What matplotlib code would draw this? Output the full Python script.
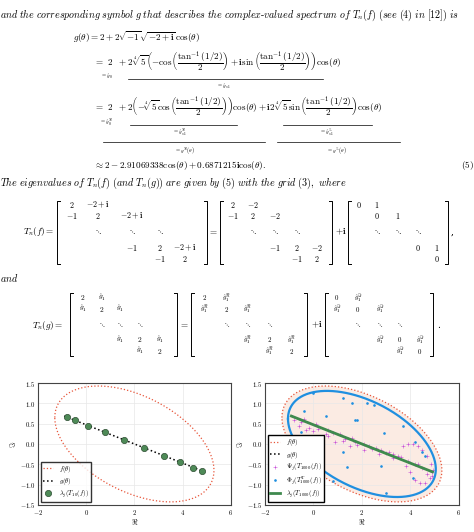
import numpy as np
import matplotlib
matplotlib.use("Agg")
import matplotlib.pyplot as plt

plt.rcParams['mathtext.fontset'] = 'cm'
plt.rcParams['font.family'] = 'DejaVu Serif'

# ---- data ----
f_re = [2.0, -3.3, 0.0]      # x = a0 + a1 cos t + a2 sin t
f_im = [0.0, 0.65, 1.27]     # y = b0 + b1 cos t + b2 sin t
blue_re = [2.0, -3.05, 0.0]
blue_im = [0.0, 0.62, 1.15]
g_re = [2.0, -2.91069338]    # g(t) = g0 + g1 cos t
g_im = [0.0, 0.6871215]
eig10_re = [-0.79, -0.45, 0.09, 0.79, 1.59, 2.41, 3.21, 3.91, 4.45, 4.79]
eig10_im = [0.66, 0.58, 0.45, 0.29, 0.10, -0.10, -0.29, -0.45, -0.58, -0.66]
bpts_re = [0.0, 0.5, -0.4, -0.5, 1.2, 1.6, 1.7, 1.8, 2.2, 2.5, 3.7, 2.9, 1.2, 1.4, 2.8, 4.2, 4.5, 4.1, 3.0, -0.7, 0.8, 4.6]
bpts_im = [1.25, 0.7, 0.82, 0.3, 1.12, 1.02, 0.6, 0.58, 1.02, 0.95, 0.45, 0.28, -0.2, -0.57, -0.55, 0.05, -0.2, -0.85, -1.2, 0.18, -0.9, -0.3]
mag_re = [-0.6, -0.3, 0.0, 0.3, 0.6, 0.9, 1.2, 1.5, 1.8, 2.1, 2.4, 2.7, 3.0, 3.3, 3.6, -0.4, 0.1, 0.6, 1.1, 1.6, 2.1, 2.6, 3.1, 3.5,
          3.7, 3.9, 4.1, 4.3, 4.5, 4.7, 4.85, 4.9, 4.8, 4.6, 4.4, 4.2, 4.0, 3.8, 4.2, 4.5, 4.7, 4.9, 4.95,
          -0.8, -0.5, -0.2, 0.2, 0.5, 0.8, 1.3, 1.7, 2.3, 2.8, 3.3, 3.9, 4.3]
mag_im = [0.45, 0.35, 0.32, 0.18, 0.2, 0.05, 0.08, -0.05, -0.02, -0.15, -0.12, -0.25, -0.22, -0.35, -0.32, 0.62, 0.5, 0.35, 0.25, 0.15, 0.0, -0.1, -0.2, -0.3,
          -0.05, 0.0, 0.0, -0.05, -0.15, -0.3, -0.5, -0.7, -0.85, -0.95, -0.95, -0.88, -0.7, -0.55, -0.5, -0.6, -0.75, -0.8, -0.65,
          0.6, 0.55, 0.4, 0.38, 0.25, 0.28, 0.12, 0.05, -0.05, -0.15, -0.25, -0.42, -0.5]

fig = plt.figure(figsize=(4.74, 5.32), dpi=100)
T = fig.add_axes([0, 0, 1, 1])
T.set_xlim(0, 474); T.set_ylim(532, 0); T.axis('off')
fs = 6.6
fp = 7.2

def t(x, y, s, ha='left', size=fs, **kw):
    T.text(x, y, s, ha=ha, va='center', fontsize=size, **kw)

t(0, 15, r"$\it{and\ the\ corresponding\ symbol\ g\ that\ describes\ the\ complex\text{-}valued\ spectrum\ of\ T_n(f)\ (see\ (4)\ in\ [12])\ is}$", size=fp)
t(73, 37, r"$g(\theta)=2+2\sqrt{-1}\sqrt{-2+\mathbf{i}}\,\cos(\theta)$")
t(94, 62, r"$=\ 2\ \ +2\,\sqrt[4]{5}\left(-\cos\left(\dfrac{\tan^{-1}(1/2)}{2}\right)+\mathbf{i}\sin\left(\dfrac{\tan^{-1}(1/2)}{2}\right)\right)\cos(\theta)$")
t(107, 77, r"$=\hat{g}_0$", size=3.8, ha='center')
T.plot([128, 323], [79, 79], color='k', lw=0.5)
t(224, 87, r"$=\hat{g}_{s1}$", size=3.8, ha='center')
t(94, 107, r"$=\ 2\ \ +2\left(-\sqrt[4]{5}\cos\left(\dfrac{\tan^{-1}(1/2)}{2}\right)\right)\cos(\theta)+\mathbf{i}2\,\sqrt[4]{5}\sin\left(\dfrac{\tan^{-1}(1/2)}{2}\right)\cos(\theta)$")
t(107, 122, r"$=\hat{g}_0^{\Re}$", size=3.8, ha='center')
T.plot([130, 237], [125, 125], color='k', lw=0.5)
T.plot([283, 372], [125, 125], color='k', lw=0.5)
t(180, 132, r"$=\hat{g}_{s1}^{\Re}$", size=3.8, ha='center')
t(327, 132, r"$=\hat{g}_{s1}^{\Im}$", size=3.8, ha='center')
T.plot([103, 265], [142, 142], color='k', lw=0.5)
T.plot([277, 400], [142, 142], color='k', lw=0.5)
t(185, 151, r"$=g^{\Re}(\theta)$", size=3.8, ha='center')
t(337, 151, r"$=g^{\Im}(\theta)$", size=3.8, ha='center')
t(94, 165, r"$\approx 2-2.91069338\cos(\theta)+0.6871215\mathbf{i}\cos(\theta).$")
t(474, 165, "$(5)$", ha='right')
t(0, 183, r"$\it{The\ eigenvalues\ of\ T_n(f)\ (and\ T_n(g))\ are\ given\ by\ (5)\ with\ the\ grid\ (3),\ where}$", size=fp)
t(0, 278, r"$\it{and}$", size=fp)

def matrix(xl, xr, ytop, ybot, cols, rows_y, entries, size=5.8):
    for x, d in ((xl, 1), (xr, -1)):
        T.plot([x + 3 * d, x, x, x + 3 * d], [ytop, ytop, ybot, ybot], color='k', lw=0.7)
    for r, row in enumerate(entries):
        for c, s in row.items():
            t(cols[c], rows_y[r], s, ha='center', size=size)

D = r"$\ddots$"
ry1 = [205, 216, 232, 248, 259]
t(23, 232, r"$T_n(f)=$")
matrix(57, 207, 201, 264, [72, 98, 132, 160, 185], ry1,
       [{0: "$2$", 1: r"$-2+\mathbf{i}$"}, {0: "$-1$", 1: "$2$", 2: r"$-2+\mathbf{i}$"},
        {1: D, 2: D, 3: D}, {2: "$-1$", 3: "$2$", 4: r"$-2+\mathbf{i}$"}, {3: "$-1$", 4: "$2$"}])
t(213, 232, "$=$", ha='center')
matrix(220, 332, 201, 264, [233, 253, 275, 297, 317], ry1,
       [{0: "$2$", 1: "$-2$"}, {0: "$-1$", 1: "$2$", 2: "$-2$"}, {1: D, 2: D, 3: D},
        {2: "$-1$", 3: "$2$", 4: "$-2$"}, {3: "$-1$", 4: "$2$"}])
t(335, 232, r"$+\mathbf{i}$")
matrix(348, 448, 201, 264, [359, 377, 398, 418, 437], ry1,
       [{0: "$0$", 1: "$1$"}, {1: "$0$", 2: "$1$"}, {1: D, 2: D, 3: D}, {3: "$0$", 4: "$1$"}, {4: "$0$"}])
t(451, 232, ",")

ry2 = [298, 309, 325, 340, 351]
g1 = r"$\hat{g}_1$"; gR = r"$\hat{g}_1^{\Re}$"; gI = r"$\hat{g}_1^{\Im}$"
t(32, 325, r"$T_n(g)=$")
matrix(70, 177, 293, 356, [83, 102, 120, 140, 160], ry2,
       [{0: "$2$", 1: g1}, {0: g1, 1: "$2$", 2: g1}, {1: D, 2: D, 3: D}, {2: g1, 3: "$2$", 4: g1}, {3: g1, 4: "$2$"}], size=5.4)
t(184, 325, "$=$", ha='center')
matrix(191, 307, 293, 356, [205, 227, 248, 270, 292], ry2,
       [{0: "$2$", 1: gR}, {0: gR, 1: "$2$", 2: gR}, {1: D, 2: D, 3: D}, {2: gR, 3: "$2$", 4: gR}, {3: gR, 4: "$2$"}], size=5.0)
t(311, 325, r"$+\mathbf{i}$")
matrix(325, 433, 293, 356, [337, 358, 380, 400, 420], ry2,
       [{0: "$0$", 1: gI}, {0: gI, 1: "$0$", 2: gI}, {1: D, 2: D, 3: D}, {2: gI, 3: "$0$", 4: gI}, {3: gI, 4: "$0$"}], size=5.0)
t(437, 325, ".")

# ---- plots ----
th = np.linspace(0, 2 * np.pi, 400)
def curve(cx, cy):
    return (cx[0] + cx[1] * np.cos(th) + cx[2] * np.sin(th),
            cy[0] + cy[1] * np.cos(th) + cy[2] * np.sin(th))
fx, fy = curve(f_re, f_im)
tg = np.linspace(0, np.pi, 200)
gx = g_re[0] + g_re[1] * np.cos(tg); gy = g_im[0] + g_im[1] * np.cos(tg)

def style(ax):
    ax.set_xlim(-2, 6); ax.set_ylim(-1.5, 1.5)
    ax.set_xticks([-2, 0, 2, 4, 6]); ax.set_yticks([-1.5, -1, -0.5, 0, 0.5, 1, 1.5])
    ax.set_yticklabels(["$-1.5$", "$-1.0$", "$-0.5$", "$0.0$", "$0.5$", "$1.0$", "$1.5$"])
    ax.set_xticklabels(["$-2$", "$0$", "$2$", "$4$", "$6$"])
    ax.tick_params(labelsize=4.8, length=0, pad=2)
    ax.grid(color='#e8e8e8', lw=0.5)
    ax.set_xlabel(r"$\Re$", fontsize=5.5, labelpad=0)
    ax.set_ylabel(r"$\Im$", fontsize=5.5, labelpad=1)
    for s in ax.spines.values():
        s.set_color('#444444'); s.set_linewidth(0.8)

ax1 = fig.add_axes([0.080, 0.051, 0.407, 0.229])
ax1.plot(fx, fy, ls=':', color='#e8553a', lw=0.9, label=r"$f(\theta)$")
ax1.plot(gx, gy, ls=':', color='k', lw=1.1, label=r"$g(\theta)$")
ax1.plot(eig10_re, eig10_im, 'o', ms=4.5, mfc='#4e8a57', mec='#2d4d32', mew=0.5, ls='none',
         label=r"$\lambda_j(T_{10}(f))$")
style(ax1)
ax1.legend(loc='lower left', fontsize=4.8, frameon=True, fancybox=False, edgecolor='k',
           borderpad=0.3, labelspacing=0.2, handlelength=1.5)

ax2 = fig.add_axes([0.559, 0.051, 0.409, 0.229])
ax2.fill(fx, fy, color='#fbe6dc', alpha=0.8, lw=0)
ax2.plot(fx, fy, ls=':', color='#e8553a', lw=0.9, label=r"$f(\theta)$")
ax2.plot(gx, gy, ls=':', color='k', lw=1.1, label=r"$g(\theta)$")
bx, by = curve(blue_re, blue_im)
ax2.plot(mag_re, mag_im, '+', color='#c84fd8', ms=2.2, mew=0.4, ls='none', label=r"$\Psi_j(T_{1000}(f))$")
ax2.plot(bx, by, '-', color='#1f8fe0', lw=1.6)
ax2.plot(bpts_re, bpts_im, '.', color='#1f8fe0', ms=1.8, ls='none', label=r"$\Phi_j(T_{1000}^{\mathrm{T}}(f))$")
ax2.plot(gx, gy, '-', color='#3f8a4e', lw=2.0, label=r"$\lambda_j(T_{1000}(f))$")
style(ax2)
ax2.legend(loc='lower left', fontsize=4.8, frameon=True, fancybox=False, edgecolor='k',
           borderpad=0.3, labelspacing=0.2, handlelength=1.5, framealpha=1)

fig.savefig("out.png", dpi=100)
